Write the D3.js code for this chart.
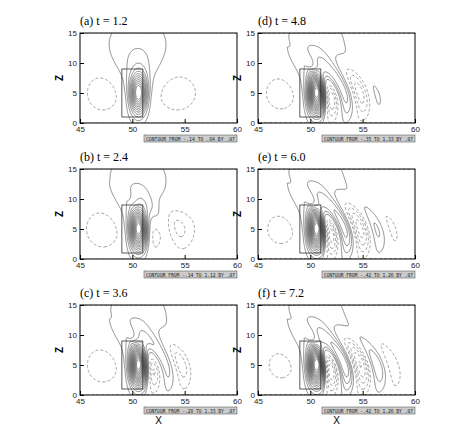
<!DOCTYPE html>
<html><head><meta charset="utf-8">
<script src="https://cdn.jsdelivr.net/npm/d3@7"></script>
<style>body{margin:0;background:#fff}</style>
</head><body>
<svg id="plot" width="474" height="425"></svg>
<script>
const panelLabels = ['(a) t = 1.2', '(b) t = 2.4', '(c) t = 3.6', '(d) t = 4.8', '(e) t = 6.0', '(f) t = 7.2'];
const cMin = [-0.14, -0.14, -0.28, -0.35, -0.42, -0.42];
const cMax = [0.84, 1.12, 1.33, 1.33, 1.26, 1.26];
const cStep = 0.07;
const coreAmp = [0.84, 1.1, 1.3, 1.3, 1.25, 1.25];
const waveAmp = [0.0, 0.1, 0.28, 0.34, 0.4, 0.42];
const sideAmp = [0.13, 0.14, 0.13, 0.12, 0.11, 0.1];
const xTicks = [45, 50, 55, 60];
const zTicks = [0, 5, 10, 15];

const svg = d3.select('#plot');
const w = 157, h = 90;
const origins = [[80, 33], [80, 169], [80, 305], [258, 33], [258, 169], [258, 305]];
const nx = 151, nz = 151;
const sq = v => v * v;

function field(i, x, z) {
  const t = i + 1;
  const dz = (z - 5) / 3.6;
  let v = coreAmp[i] * Math.exp(-sq((x - 50.6) / 0.75) - sq((z - 5) / 3.0));
  // broad positive plume spreading upward
  const spread = 1.2 + 0.25 * Math.max(z - 4, 0);
  v += 0.16 * Math.exp(-sq((x - 50.5) / spread) - sq((z - 9) / 9));
  // negative side lobes
  v -= sideAmp[i] * Math.exp(-sq((x - 47.2) / 1.9) - dz * dz);
  v -= sideAmp[i] * Math.exp(-sq((x - 54.4 + 0.1 * t) / 2.2) - dz * dz) * (i < 2 ? 1 : 0.5);
  // lee wave train, slightly tilted
  const xs = x - 51.7 + 0.18 * (z - 5) + 0.03 * sq(z - 5);
  if (xs > -0.8) {
    const env = Math.exp(-sq(xs / (1 + 0.8 * t))) * Math.exp(-dz * dz * 0.7);
    v -= waveAmp[i] * env * Math.cos(xs * 2.0);
  }
  return v;
}

const x = d3.scaleLinear().domain([45, 60]).range([0, w]);
const z = d3.scaleLinear().domain([0, 15]).range([h, 0]);
const fmt = v => {
  const s = Math.abs(v).toFixed(2).replace(/^0\./, '.');
  return (v < 0 ? '-' : '') + s;
};

panelLabels.forEach((lab, i) => {
  const [ox, oy] = origins[i];
  const g = svg.append('g').attr('transform', `translate(${ox},${oy})`);
  const values = new Array(nx * nz);
  for (let r = 0; r < nz; r++)
    for (let c = 0; c < nx; c++)
      values[r * nx + c] = field(i, 45 + c * 0.1, 15 - r * 0.1);
  const thr = d3.range(Math.round(cMin[i] / cStep), Math.round(cMax[i] / cStep) + 1)
    .map(k => k * cStep).filter(v => Math.abs(v) > 1e-6);
  const cont = d3.contours().size([nx, nz]).thresholds(thr)(values);
  const proj = d3.geoTransform({point(px, py) {
    this.stream.point((px - 0.5) / (nx - 1) * w, (py - 0.5) / (nz - 1) * h);
  }});
  g.append('clipPath').attr('id', 'c' + i).append('rect').attr('width', w).attr('height', h);
  g.append('g').attr('clip-path', `url(#c${i})`).selectAll('path').data(cont).join('path')
    .attr('d', d3.geoPath(proj)).attr('fill', 'none')
    .attr('stroke', d => d.value < 0 ? '#555' : '#333')
    .attr('stroke-width', 0.55)
    .attr('stroke-dasharray', d => d.value < 0 ? '3,2' : null);
  g.append('rect').attr('x', x(49)).attr('y', z(9)).attr('width', x(51) - x(49)).attr('height', z(1) - z(9))
    .attr('fill', 'none').attr('stroke', '#333').attr('stroke-width', 0.8);
  g.append('rect').attr('width', w).attr('height', h).attr('fill', 'none').attr('stroke', '#000');
  const xa = g.append('g').attr('transform', `translate(0,${h})`)
    .call(d3.axisBottom(x).tickValues(xTicks).tickSize(-4).tickPadding(3));
  const za = g.append('g').call(d3.axisLeft(z).tickValues(zTicks).tickSize(-4).tickPadding(3));
  [xa, za].forEach(a => {
    a.select('.domain').remove();
    a.selectAll('text').attr('font-family', 'Liberation Sans, Arial').attr('font-size', 8).attr('fill', '#222');
  });
  g.append('text').attr('x', 0).attr('y', -8).text(lab)
    .attr('font-family', 'Liberation Serif, Times New Roman').attr('font-size', 12);
  const txt = `CONTOUR FROM ${fmt(cMin[i])} TO ${fmt(cMax[i])} BY .07`;
  g.append('rect').attr('x', 64).attr('y', h + 12).attr('width', 93).attr('height', 7).attr('fill', '#ccc').attr('stroke', '#444').attr('stroke-width', 0.5);
  g.append('text').attr('x', 66).attr('y', h + 17.8).text(txt)
    .attr('textLength', 89).attr('lengthAdjust', 'spacingAndGlyphs')
    .attr('font-family', 'DejaVu Sans Mono').attr('font-size', 5.5).attr('fill', '#222');
  g.append('text').attr('transform', `translate(-17,${h / 2}) rotate(-90)`).attr('text-anchor', 'middle')
    .text('Z').attr('font-family', 'Liberation Sans, Arial').attr('font-size', 10).attr('font-weight', 'bold');
  if (i === 2 || i === 5)
    g.append('text').attr('x', w / 2).attr('y', h + 29).attr('text-anchor', 'middle')
      .text('X').attr('font-family', 'Liberation Sans, Arial').attr('font-size', 10);
});
</script>
</body></html>
